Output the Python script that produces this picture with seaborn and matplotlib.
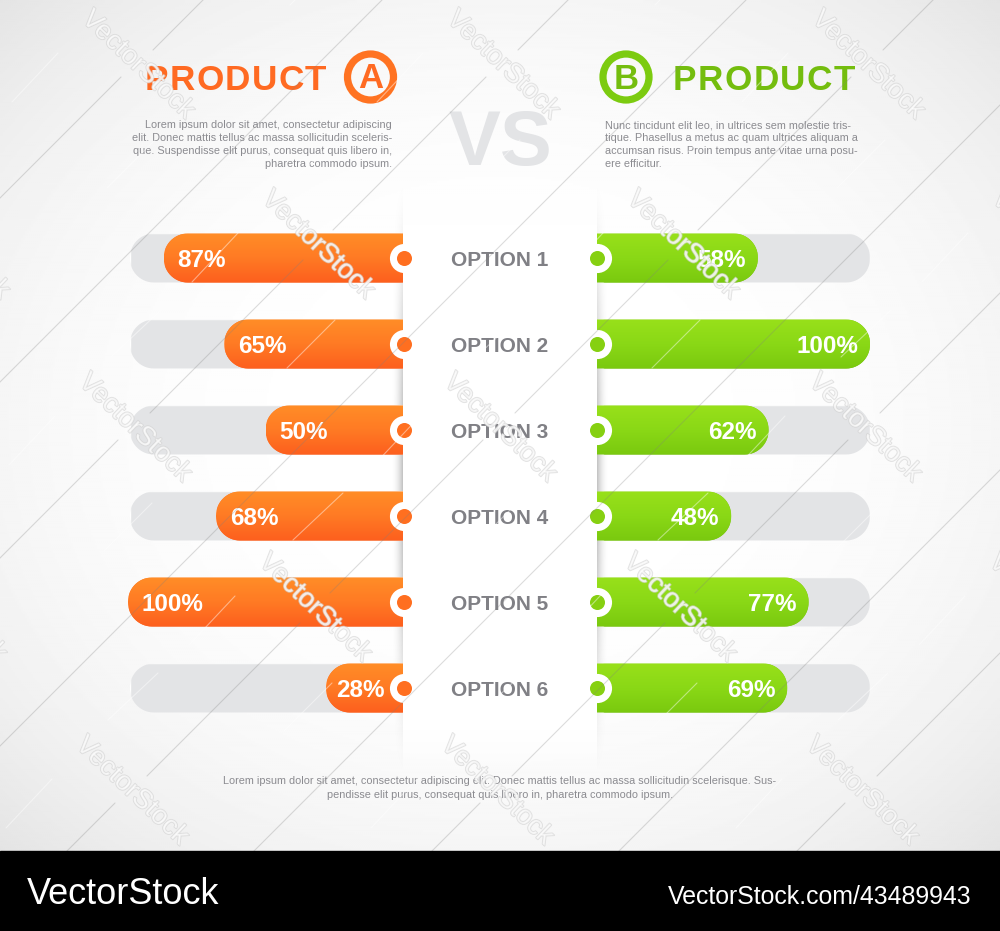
import numpy as np
import matplotlib
matplotlib.use('Agg')
import matplotlib.pyplot as plt
import matplotlib.patheffects as pe
from matplotlib.colors import LinearSegmentedColormap
from matplotlib.font_manager import FontProperties
from matplotlib.patches import Polygon, Rectangle, Circle
import seaborn as sns

OPTIONS = ['OPTION 1', 'OPTION 2', 'OPTION 3', 'OPTION 4', 'OPTION 5', 'OPTION 6']
PRODUCT_A = [87, 65, 50, 68, 100, 28]
PRODUCT_B = [58, 100, 62, 48, 77, 69]

TEXT_A = ['Lorem ipsum dolor sit amet, consectetur adipiscing',
          'elit. Donec mattis tellus ac massa sollicitudin sceleris-',
          'que. Suspendisse elit purus, consequat quis libero in,',
          'pharetra commodo ipsum.']
TEXT_B = ['Nunc tincidunt elit leo, in ultrices sem molestie tris-',
          'tique. Phasellus a metus ac quam ultrices aliquam a',
          'accumsan risus. Proin tempus ante vitae urna posu-',
          'ere efficitur.']
TEXT_FOOT = ['Lorem ipsum dolor sit amet, consectetur adipiscing elit. Donec mattis tellus ac massa sollicitudin scelerisque. Sus-',
             'pendisse elit purus, consequat quis libero in, pharetra commodo ipsum.']

ORANGE = '#ff6a22'
GREEN = '#74bd0e'
GREY_TEXT = '#8b8b90'
TRACK = '#e3e4e6'

sns.set_theme(style='white')
plt.rcParams['font.family'] = ['Liberation Sans', 'DejaVu Sans']

fig = plt.figure(figsize=(10, 9.31), dpi=100)


def pixel_axes(left, top, right, bottom, zorder):
    ax = fig.add_axes([left / 1000, 1 - bottom / 931, (right - left) / 1000, (bottom - top) / 931])
    ax.set_zorder(zorder)
    ax.patch.set_alpha(0)
    return ax


def reset_canvas(ax):
    ax.set_xlim(0, 1000)
    ax.set_ylim(931, 0)
    ax.axis('off')


def to_pixels(ax, x, y):
    return canvas.transData.inverted().transform(ax.transData.transform((x, y)))


def rounded_clip(left, right, top, bottom, radius=24):
    # circular corners, FancyBboxPatch only gives quadratic ones
    t = np.linspace(0, np.pi / 2, 16)
    pts = np.vstack([
        np.column_stack([right - radius + radius * np.cos(t), bottom - radius + radius * np.sin(t)]),
        np.column_stack([left + radius - radius * np.sin(t), bottom - radius + radius * np.cos(t)]),
        np.column_stack([left + radius - radius * np.cos(t), top + radius - radius * np.sin(t)]),
        np.column_stack([right - radius + radius * np.sin(t), top + radius - radius * np.cos(t)]),
    ])
    return Polygon(pts, closed=True, transform=canvas.transData)


def style_bars(ax, bars, values, cmap, side):
    """Give the seaborn bars a rounded outer end, and a gradient if a colormap is passed"""
    xlim, ylim = ax.get_xlim(), ax.get_ylim()
    for bar, value in zip(bars, values):
        y0, y1 = bar.get_y(), bar.get_y() + bar.get_height()
        x_end, top = to_pixels(ax, value, y0)
        bottom = to_pixels(ax, value, y1)[1]
        if side == 'left':
            clip = rounded_clip(x_end, x_end + value * 2.75 + 40, top, bottom)
        else:
            clip = rounded_clip(x_end - value * 2.67 - 40, x_end, top, bottom)
        bar.set_clip_path(clip)
        if cmap is not None:
            img = ax.imshow(np.linspace(0, 1, 50).reshape(-1, 1), cmap=cmap, aspect='auto',
                            extent=(-5, value, y1, y0), zorder=3)
            img.set_clip_path(clip)
    ax.set_xlim(xlim)
    ax.set_ylim(ylim)


def spaced_text(ax, left, y, text, width, size, color):
    """Bold text stretched to a pixel width by tracking the letters out"""
    renderer = fig.canvas.get_renderer()
    prop = FontProperties(family='Liberation Sans', weight='bold', size=size)

    def ink(t):
        return renderer.get_text_width_height_descent(t, prop, False)[0]

    spacing = (width - ink(text)) / (len(text) - 1)
    for i, ch in enumerate(text):
        x = left + ink(text[:i + 1]) - ink(ch) + i * spacing
        ax.text(x, y, ch, ha='left', va='baseline', fontproperties=prop, color=color, zorder=3)


canvas = pixel_axes(0, 0, 1000, 931, 0)
reset_canvas(canvas)

# soft grey vignette behind everything
xx, yy = np.meshgrid(np.linspace(0, 1000, 500), np.linspace(0, 851, 430))
dist = np.sqrt(((xx - 500) / 620) ** 2 + ((yy - 425) / 520) ** 2)
canvas.imshow(1 - 0.07 * dist ** 3, cmap='gray', vmin=0, vmax=1,
              extent=(0, 1000, 851, 0), aspect='auto', zorder=0)

# panel shadow sits under the bars, strongest around the middle rows
rows = np.arange(175, 780)
fade = np.clip(np.minimum((rows - 175) / 50, (779 - rows) / 50), 0, 1)
shadow_fade = np.sin(np.pi * (rows - 175) / 604) ** 1.5
for x0, x1, ramp in [(390, 403, np.linspace(0, 1, 26)), (597, 610, np.linspace(1, 0, 26))]:
    shadow = np.zeros((len(rows), 26, 4))
    shadow[:, :, 3] = shadow_fade[:, None] * 0.24 * ramp[None, :] ** 2.2
    canvas.imshow(shadow, extent=(x0, x1, 780, 175), aspect='auto', zorder=1)
reset_canvas(canvas)

ax_a = pixel_axes(128, 215, 403, 731, 1)
ax_b = pixel_axes(597, 215, 870, 731, 1)

cmap_a = LinearSegmentedColormap.from_list('a', ['#ff8d27', '#ff7a24', '#fd5f1e'])
cmap_b = LinearSegmentedColormap.from_list('b', ['#98e01a', '#8ad816', '#7ac90f'])

# tracks first, then the values on the same axes
sns.barplot(x=[99.3] * 6, y=OPTIONS, color=TRACK, saturation=1, width=0.57, orient='h', ax=ax_a)
sns.barplot(x=PRODUCT_A, y=OPTIONS, color=ORANGE, saturation=1, width=0.57, orient='h', ax=ax_a)
sns.barplot(x=[100] * 6, y=OPTIONS, color=TRACK, saturation=1, width=0.57, orient='h', ax=ax_b)
sns.barplot(x=PRODUCT_B, y=OPTIONS, color=GREEN, saturation=1, width=0.57, orient='h', ax=ax_b)

ax_a.set_xlim(100, 0)
ax_b.set_xlim(-2.25, 100)
for ax in (ax_a, ax_b):
    ax.set_ylim(5.5, -0.5)
    ax.axis('off')

style_bars(ax_a, ax_a.patches[:6], [99.3] * 6, None, 'left')
style_bars(ax_a, ax_a.patches[6:12], PRODUCT_A, cmap_a, 'left')
style_bars(ax_b, ax_b.patches[:6], [100] * 6, None, 'right')
style_bars(ax_b, ax_b.patches[6:12], PRODUCT_B, cmap_b, 'right')

for i, value in enumerate(PRODUCT_A):
    offset = 7 if value < 30 else 10
    ax_a.annotate(f'{value}%', xy=(value, i), xytext=(offset, 0), textcoords='offset points',
                  ha='left', va='center_baseline', color='white', fontsize=17.5, fontweight='bold', zorder=5)
for i, value in enumerate(PRODUCT_B):
    ax_b.annotate(f'{value}%', xy=(value, i), xytext=(-8.5, 0), textcoords='offset points',
                  ha='right', va='center_baseline', color='white', fontsize=17.5, fontweight='bold', zorder=5)

overlay = pixel_axes(0, 0, 1000, 931, 2)

# centre panel, fading out at top and bottom
panel = np.ones((len(fade), 1, 4))
panel[:, 0, 3] = fade
overlay.imshow(panel, extent=(403, 597, 780, 175), aspect='auto', zorder=1)

# option markers sit on the panel edge
rows_y = [to_pixels(ax_a, 0, i)[1] for i in range(len(OPTIONS))]
for x, color in [(403.5, '#ff6f20'), (597, '#86d011')]:
    overlay.scatter([x] * 6, rows_y, s=440, color='white', linewidths=0, zorder=2)
    overlay.scatter([x] * 6, rows_y, s=117, color=color, linewidths=0, zorder=3)
for name, y in zip(OPTIONS, rows_y):
    overlay.text(500, y, name, ha='center', va='center_baseline', fontsize=15, fontweight='bold',
                 color='#808085', zorder=3)

# header
spaced_text(overlay, 145, 89.5, 'PRODUCT', 181, 25.3, ORANGE)
spaced_text(overlay, 673, 89.5, 'PRODUCT', 182, 25.3, GREEN)
overlay.add_patch(Circle((370.5, 77), 23, fill=False, ec='#ff7322', lw=5.2, zorder=3))
overlay.add_patch(Circle((626, 77), 23, fill=False, ec='#7ccb10', lw=5.2, zorder=3))
overlay.text(370.5, 88.5, 'A', ha='center', va='baseline', fontsize=25, fontweight='bold', color=ORANGE, zorder=3)
overlay.text(626, 89, 'B', ha='center', va='baseline', fontsize=25, fontweight='bold', color=GREEN, zorder=3)
overlay.text(500, 137, 'VS', ha='center', va='center_baseline', fontsize=56, fontweight='bold', color='#e3e4e6', zorder=3)

for i, line in enumerate(TEXT_A):
    overlay.text(392, 125 + i * 13, line, ha='right', va='center', fontsize=7.8, color=GREY_TEXT, zorder=3)
for i, line in enumerate(TEXT_B):
    overlay.text(605, 125 + i * 13, line, ha='left', va='center', fontsize=7.8, color=GREY_TEXT, zorder=3)
for i, line in enumerate(TEXT_FOOT):
    overlay.text(500, 781 + i * 13.5, line, ha='center', va='center', fontsize=7.8, color=GREY_TEXT, zorder=3)

# repeating stock watermark: long diagonals between the tiles, then a tile per stamp
for c in (382, 746, 1105, 1470):
    overlay.plot([c - 900, c], [900, 0], color='#808080', lw=0.8, alpha=0.28, zorder=4)

for row in range(-1, 3):
    for col in range(-1, 4):
        for shift in (0, -180):
            mx = 318 + col * 365 - 3 * row + shift
            my = 245 + row * 363 + shift
            overlay.plot([mx + 15, mx + 168], [my - 15, my - 168], color='#808080', lw=0.8, alpha=0.28, zorder=4)
            for x0, y0, x1, y1 in [(-126, 37, -80, -12), (-31, 123, 17, 75), (158, 112, 208, 65)]:
                overlay.plot([mx + x0, mx + x1], [my + y0, my + y1], color='white', lw=0.8, alpha=0.45, zorder=4)
            if -50 <= mx <= 1050 and 0 <= my <= 851:
                overlay.text(mx, my, 'VectorStock', rotation=-43.5, rotation_mode='anchor', ha='center', va='center',
                             fontsize=19.5, color='white', alpha=0.6, zorder=5, clip_on=True,
                             path_effects=[pe.Stroke(linewidth=1.2, foreground='#d2d2d2', alpha=0.65), pe.Normal()])

# footer band
overlay.add_patch(Rectangle((0, 851), 1000, 80, color='black', zorder=6))
overlay.text(27, 891, 'VectorStock', ha='left', va='center_baseline', fontsize=26, color='white', zorder=7)
overlay.text(972, 894, 'VectorStock.com/43489943', ha='right', va='center_baseline', fontsize=17.9, color='white', zorder=7)

reset_canvas(overlay)

fig.savefig('out.png', dpi=100)
plt.close(fig)
